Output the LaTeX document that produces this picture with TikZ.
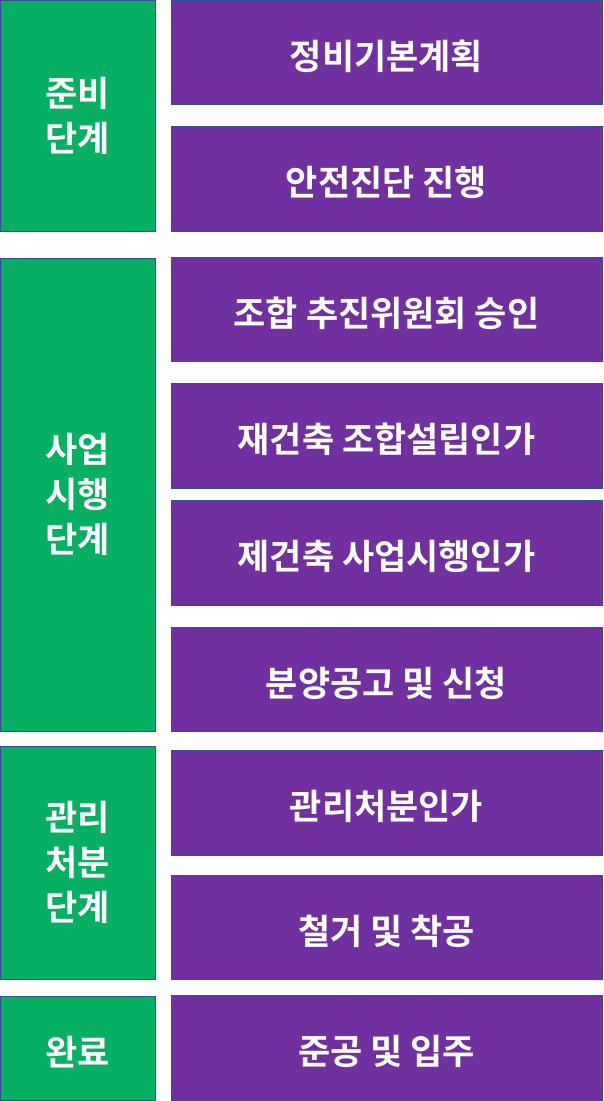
\documentclass[tikz,border=0pt]{standalone}
\usepackage{fontspec}
\newfontfamily\kr{Noto Sans CJK KR Bold}
\definecolor{stagegreen}{HTML}{07AF63}
\definecolor{steppurple}{HTML}{7030A0}
\definecolor{edgeblue}{HTML}{2F528F}
\begin{document}
\begin{tikzpicture}[x=1pt,y=-1pt,
  base/.style={draw=edgeblue,line width=1pt,text=white,inner sep=0pt,outer sep=0pt,
    font=\kr\fontsize{35}{45}\selectfont,align=center,
    execute at begin node={\rule{0pt}{37pt}}},
  stagebox/.style={base,fill=stagegreen,minimum width=155pt},
  stepbox/.style={base,fill=steppurple,minimum width=431pt,minimum height=104.5pt}]
\useasboundingbox (0,0) rectangle (603,1101);
% stages
\node[stagebox,minimum height=231pt] (s1) at (77.5,115.5) {준비\\단계};
\node[stagebox,minimum height=473pt] (s2) at (77.5,494.5) {사업\\시행\\단계};
\node[stagebox,minimum height=233pt] (s3) at (77.5,862.5) {관리\\처분\\단계};
\node[stagebox,minimum height=104pt] (s4) at (77.5,1048.5) {완료};
% steps
\node[stepbox] (p1) at (386.5,52.5) {정비기본계획};
\node[stepbox] (p2) at (386.5,179) {안전진단 진행};
\node[stepbox] (p3) at (386.5,309.5) {조합 추진위원회 승인};
\node[stepbox] (p4) at (386.5,435.8) {재건축 조합설립인가};
\node[stepbox] (p5) at (386.5,552.8) {제건축 사업시행인가};
\node[stepbox] (p6) at (386.5,679.5) {분양공고 및 신청};
\node[stepbox] (p7) at (386.5,803) {관리처분인가};
\node[stepbox] (p8) at (386.5,927.5) {철거 및 착공};
\node[stepbox] (p9) at (386.5,1048) {준공 및 입주};
\end{tikzpicture}
\end{document}
